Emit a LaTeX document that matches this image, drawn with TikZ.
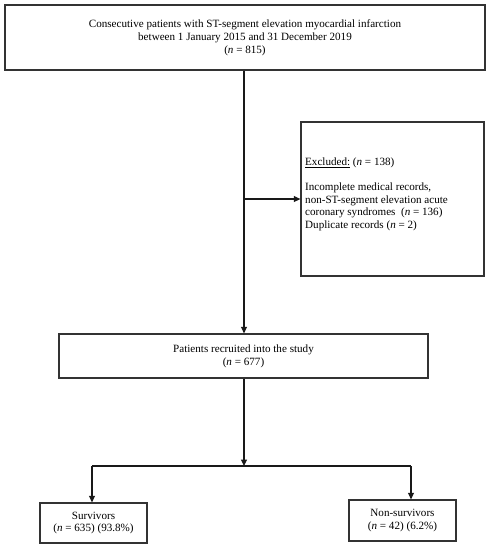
\documentclass[tikz,border=0pt]{standalone}
\usepackage{fontspec}
\setmainfont{Liberation Serif}
\usetikzlibrary{arrows.meta}
\begin{document}
\begin{tikzpicture}[x=1pt,y=-1pt,
  box/.style={draw=black!80, line width=1.3pt, inner sep=0pt, align=center,
    font=\fontsize{11.1}{12.8}\selectfont},
  txt/.style={inner sep=0pt, align=left, font=\fontsize{11.1}{12.5}\selectfont},
  conn/.style={draw=black!90, line width=1.2pt},
  arr/.style={conn, -{Triangle[length=6.5pt,width=6pt]}}]
\useasboundingbox (0,0) rectangle (490,550);
\node[box, minimum width=480pt, minimum height=65pt] (top) at (245,37.5)
  {Consecutive patients with ST-segment elevation myocardial infarction\\
   between 1 January 2015 and 31 December 2019\\
   (\textit{n} = 815)};
\node[box, minimum width=183pt, minimum height=154pt] (excl) at (392.5,199) {};
\node[txt, anchor=west] (excltxt) at (305,194.5)
  {\underline{Excluded:} (\textit{n} = 138)\\[12.5pt]
   Incomplete medical records,\\
   non-ST-segment elevation acute\\
   coronary syndromes\ \ (\textit{n} = 136)\\
   Duplicate records (\textit{n} = 2)};
\node[box, minimum width=369pt, minimum height=44pt] (rec) at (243.5,356)
  {Patients recruited into the study\\(\textit{n} = 677)};
\node[box, minimum width=107pt, minimum height=40pt] (surv) at (93.5,523)
  {Survivors\\(\textit{n} = 635) (93.8\%)};
\node[box, minimum width=107pt, minimum height=41pt] (nons) at (402.5,520.5)
  {Non-survivors\\(\textit{n} = 42) (6.2\%)};
\coordinate (split) at (244,466);
\coordinate (lft) at (92,466);
\coordinate (rgt) at (411,466);
\coordinate (branch) at (split |- excl.west);
\draw[arr] (top.south -| split) -- (rec.north -| split);
\draw[arr] (branch) -- (excl.west);
\draw[arr] (rec.south -| split) -- (split);
\draw[conn] (lft) -- (rgt);
\draw[arr] (lft) -- (lft |- surv.north);
\draw[arr] (rgt) -- (rgt |- nons.north);
\end{tikzpicture}
\end{document}
